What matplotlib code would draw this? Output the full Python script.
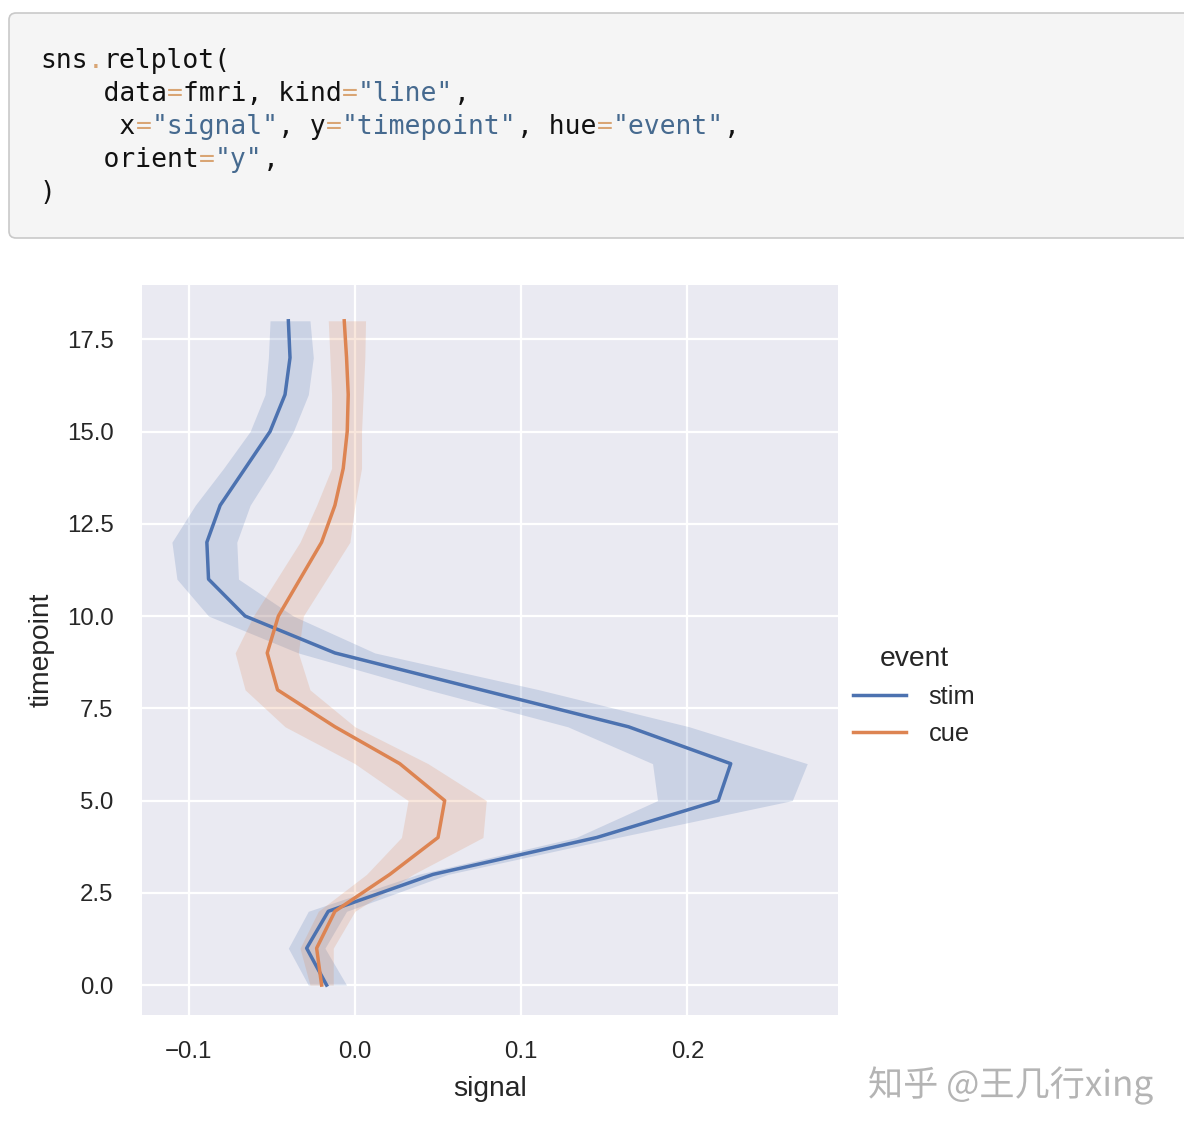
import matplotlib
matplotlib.use("Agg")
import matplotlib.pyplot as plt
from matplotlib.patches import FancyBboxPatch
import matplotlib.patheffects as pe

# ---- data ----
timepoints = list(range(19))
stim_mean = [-0.017, -0.029, -0.016, 0.047, 0.1455, 0.2185, 0.226, 0.1645, 0.076, -0.012,
             -0.066, -0.088, -0.089, -0.081, -0.066, -0.051, -0.042, -0.039, -0.040]
stim_lo = [-0.028, -0.040, -0.028, 0.038, 0.133, 0.182, 0.179, 0.128, 0.044, -0.034,
           -0.088, -0.107, -0.110, -0.096, -0.079, -0.063, -0.054, -0.052, -0.051]
stim_hi = [-0.005, -0.018, -0.005, 0.056, 0.158, 0.263, 0.272, 0.201, 0.111, 0.012,
           -0.037, -0.070, -0.071, -0.063, -0.049, -0.037, -0.028, -0.025, -0.027]
cue_mean = [-0.020, -0.023, -0.012, 0.021, 0.050, 0.054, 0.027, -0.012, -0.0465, -0.0527,
            -0.046, -0.033, -0.020, -0.012, -0.007, -0.0046, -0.004, -0.005, -0.0064]
cue_lo = [-0.027, -0.033, -0.022, 0.007, 0.028, 0.032, 0.000, -0.042, -0.066, -0.072,
          -0.061, -0.047, -0.033, -0.023, -0.014, -0.014, -0.014, -0.015, -0.016]
cue_hi = [-0.013, -0.013, 0.000, 0.035, 0.077, 0.079, 0.044, 0.000, -0.027, -0.034,
          -0.031, -0.017, -0.003, 0.000, 0.004, 0.004, 0.005, 0.006, 0.0064]
hue_levels = ["stim", "cue"]
xticks = [-0.1, 0.0, 0.1, 0.2]
xticklabels = ["\u22120.1", "0.0", "0.1", "0.2"]
yticks = [0.0, 2.5, 5.0, 7.5, 10.0, 12.5, 15.0, 17.5]

code_lines = [
    [("sns", "k"), (".", "o"), ("relplot(", "k")],
    [("    data", "k"), ("=", "o"), ("fmri, kind", "k"), ("=", "o"), ('"line"', "s"), (",", "k")],
    [("     x", "k"), ("=", "o"), ('"signal"', "s"), (", y", "k"), ("=", "o"), ('"timepoint"', "s"),
     (", hue", "k"), ("=", "o"), ('"event"', "s"), (",", "k")],
    [("    orient", "k"), ("=", "o"), ('"y"', "s"), (",", "k")],
    [(")", "k")],
]
code_colors = {"k": "#111111", "o": "#D9A574", "s": "#466A8F"}

W, H = 1184, 1132
fig = plt.figure(figsize=(W / 100, H / 100), dpi=100)
fig.patch.set_facecolor("white")

# ---- code block ----
box = FancyBboxPatch((9 / W, 1 - 238 / H), 1200 / W, 225 / H,
                     boxstyle="round,pad=0,rounding_size=0.006",
                     transform=fig.transFigure, facecolor="#F5F5F5",
                     edgecolor="#C9C9C9", linewidth=1.2, zorder=0)
fig.patches.append(box)
charw = 15.9
x0 = 40
for i, line in enumerate(code_lines):
    base = 68 + 33 * i
    col = 0
    for seg, c in line:
        fig.text((x0 + col * charw) / W, 1 - base / H, seg, family="DejaVu Sans Mono",
                 fontsize=19, color=code_colors[c], va="baseline", ha="left")
        col += len(seg)

# ---- axes ----
ax = fig.add_axes([142 / W, 1 - 1015 / H, 696 / W, 730 / H])
ax.set_facecolor("#EAEAF2")
for s in ax.spines.values():
    s.set_visible(False)
ax.grid(True, color="white", linewidth=1.6)
ax.set_axisbelow(True)

colors = ["#4C72B0", "#DD8452"]
means = [stim_mean, cue_mean]
los = [stim_lo, cue_lo]
his = [stim_hi, cue_hi]
handles = []
for lvl, c, m, lo, hi in zip(hue_levels, colors, means, los, his):
    ax.fill_betweenx(timepoints, lo, hi, color=c, alpha=0.2, linewidth=0)
    ln, = ax.plot(m, timepoints, color=c, linewidth=2.5, label=lvl)
    handles.append(ln)

ax.set_xlim(-0.128, 0.2905)
ax.set_ylim(-0.81, 18.97)
ax.set_xticks(xticks)
ax.set_xticklabels(xticklabels)
ax.set_yticks(yticks)
ax.set_yticklabels([f"{v:.1f}" for v in yticks])
tick_font = "Liberation Sans"
ax.tick_params(axis="x", length=0, pad=19, labelsize=17.3, labelcolor="#262626")
ax.tick_params(axis="y", length=0, pad=20.5, labelsize=17.3, labelcolor="#262626")
for lab in ax.get_xticklabels() + ax.get_yticklabels():
    lab.set_family(tick_font)
ax.set_xlabel("signal", family=tick_font, fontsize=20.3, color="#262626", labelpad=9)
ax.set_ylabel("timepoint", family=tick_font, fontsize=20.3, color="#262626", labelpad=9)

leg = fig.legend(handles=handles, labels=hue_levels, title="event", frameon=False,
                 loc="center left", bbox_to_anchor=(830 / W, 1 - 696 / H),
                 prop={"family": tick_font, "size": 18.3},
                 title_fontproperties={"family": tick_font, "size": 20.3},
                 handlelength=2.08, handletextpad=0.9, labelspacing=0.5)
for t in leg.get_texts():
    t.set_color("#262626")
leg.get_title().set_color("#262626")

# ---- watermark ----
fig.text(868 / W, 1 - 1085 / H, "知乎 @王几行xing", family=["Noto Sans CJK SC", "DejaVu Sans"],
         fontsize=25.3, color="#B4B4B4", va="center", ha="left",
         path_effects=[pe.withStroke(linewidth=2, foreground="white")])

fig.savefig("out.png", dpi=100)
